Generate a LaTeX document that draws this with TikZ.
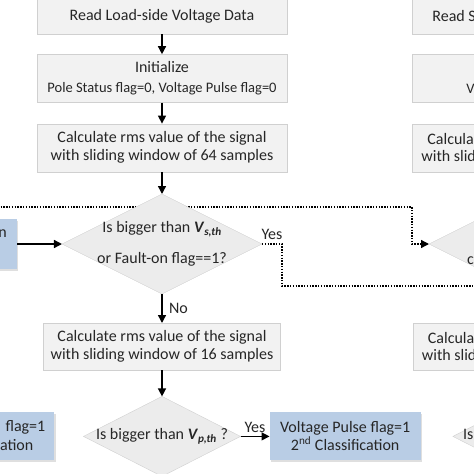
\documentclass[tikz,border=0pt]{standalone}
\usepackage{fontspec}
\setmainfont{Carlito}
\usetikzlibrary{shapes.geometric, arrows.meta, positioning, shadows, backgrounds}
\definecolor{boxgray}{RGB}{242,242,242}
\definecolor{diagray}{RGB}{236,236,236}
\definecolor{edgegray}{RGB}{208,208,208}
\definecolor{flagblue}{RGB}{185,205,229}
\newcommand{\thr}[1]{\textbf{\textit{V}}\textsubscript{\textbf{\textit{#1}}}}

\begin{document}
\begin{tikzpicture}[x=1pt, y=-1pt,
    process/.style={rectangle, draw=edgegray, fill=boxgray, minimum width=250pt, minimum height=48pt, align=center, font=\fontsize{16}{18}\selectfont, text=black!85, inner sep=2pt},
    decision/.style={diamond, draw=edgegray, fill=diagray, inner sep=0pt, outer sep=0pt},
    dtext/.style={align=center, font=\fontsize{16}{31}\selectfont, text=black!85},
    flag/.style={rectangle, fill=flagblue, minimum width=151pt, minimum height=48pt, align=center, font=\fontsize{16}{18}\selectfont, text=black!85, drop shadow={shadow xshift=1.5pt, shadow yshift=-1.5pt, opacity=0.25}},
    part/.style={inner sep=0pt, font=\fontsize{16}{18}\selectfont, text=black!85},
    lbl/.style={font=\fontsize{16}{18}\selectfont, text=black!85},
    arrow/.style={draw, -{Triangle[length=8pt, width=8pt]}, line width=1.4pt},
    dotline/.style={draw, line width=1.3pt, dash pattern=on 1.4pt off 1.4pt},
    node distance=20pt
]
\useasboundingbox (0,0) rectangle (474,474);

% Left column
\node[process, minimum height=35pt] (readload) at (162,16.5) {Read Load-side Voltage Data};
\node[process, below=20pt of readload] (init) {Initialize\\[2pt]{\fontsize{14.5}{16}\selectfont Pole Status flag=0, Voltage Pulse flag=0}};
\node[process, below=21pt of init] (rms64) {Calculate rms value of the signal\\with sliding window of 64 samples};
\node[decision, minimum width=200pt, minimum height=100pt, below=22pt of rms64] (check1) {};
\node[dtext] at (check1) {Is bigger than \thr{s,th}\\or Fault-on flag==1?};
\node[process, minimum width=237pt, minimum height=47pt, below=29pt of check1] (rms16) {Calculate rms value of the signal\\with sliding window of 16 samples};
\node[decision, minimum width=157pt, minimum height=80pt, below=26pt of rms16] (check2) {};
\node[dtext] at (check2) {Is bigger than \thr{p,th} ?};
\node[flag, right=29pt of check2] (pulse) {Voltage Pulse flag=1\\2\textsuperscript{nd} Classification};

% Flag boxes at the left edge
\node[flag, minimum height=50pt, left=45pt of check1] (faulton) {};
\node[part, anchor=east] at ([xshift=-10pt, yshift=10pt]faulton.east) {n};
\node[flag, left=29pt of check2] (pulseL) {};
\node[part, anchor=east] at ([xshift=-9pt, yshift=9pt]pulseL.east) {flag=1};
\node[part, anchor=east] at ([xshift=-21pt, yshift=-9pt]pulseL.east) {ation};

% Right column
\node[process, minimum height=35pt, right=125pt of readload] (readsrc) {};
\node[part, anchor=west] at ([xshift=20pt]readsrc.west) {Read S};
\node[process, right=125pt of init] (initR) {};
\node[part, anchor=west, font=\fontsize{14.5}{16}\selectfont] at ([xshift=54pt, yshift=-10pt]initR.west) {V};
\node[process, right=125pt of rms64] (rms64R) {};
\node[part, anchor=west] at ([xshift=15pt, yshift=9pt]rms64R.west) {Calcula};
\node[part, anchor=west] at ([xshift=9pt, yshift=-8pt]rms64R.west) {with slid};
\node[decision, minimum width=200pt, minimum height=100pt, right=167pt of check1] (checkR) {};
\node[part, anchor=west] at ([xshift=38pt, yshift=-17pt]checkR.west) {c};
\node[process, minimum width=237pt, minimum height=47pt, right=132pt of rms16] (rms16R) {};
\node[part, anchor=west] at ([xshift=15pt, yshift=9pt]rms16R.west) {Calcula};
\node[part, anchor=west] at ([xshift=9pt, yshift=-8pt]rms16R.west) {with slid};
\node[decision, minimum width=157pt, minimum height=80pt, right=32pt of pulse] (checkR2) {};
\node[part, anchor=west] at ([xshift=10pt, yshift=2pt]checkR2.west) {Is};

% Connections
\draw[arrow] (readload) -- (init);
\draw[arrow] (init) -- (rms64);
\draw[arrow] (rms64) -- (check1);
\draw[arrow] (check1) -- node[lbl, right, xshift=3pt] {No} (rms16);
\draw[arrow] (rms16) -- (check2);
\draw[arrow] (faulton) -- (check1);
\draw[arrow] (check2) -- node[lbl, above] {Yes} (pulse);

% Dotted loop
\coordinate[right=20pt of check1] (yesturn);
\coordinate (yesexit) at (480,286);
\draw[dotline] (check1.east) -- node[lbl, above] {Yes} (yesturn) |- (yesexit);
\coordinate (loopin) at (-5,207);
\coordinate[left=17pt of checkR] (loopturn);
\begin{scope}[on background layer]
\draw[dotline, -{Triangle[length=8pt, width=8pt]}] (loopin) -| (loopturn) -- (checkR);
\end{scope}

\end{tikzpicture}
\end{document}
